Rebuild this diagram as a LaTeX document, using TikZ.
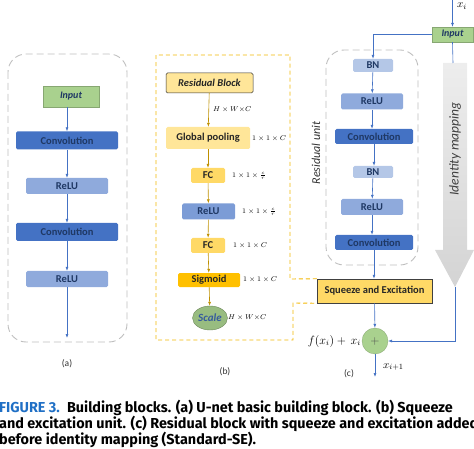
\documentclass[tikz,border=0pt]{standalone}
\usepackage{amsmath}
\usepackage{fontspec}
\setmainfont{Carlito}
\newfontfamily\capfont{Fira Sans}
\usetikzlibrary{shapes.geometric,arrows.meta,positioning}
\definecolor{convblue}{HTML}{4472C4}
\definecolor{relublue}{HTML}{8FAADC}
\definecolor{bnblue}{HTML}{B4C7E7}
\definecolor{navy}{HTML}{1F3864}
\definecolor{ingreen}{HTML}{A9D18E}
\definecolor{lightyel}{HTML}{FFE699}
\definecolor{fcyel}{HTML}{FFD966}
\definecolor{sigyel}{HTML}{FFC000}
\definecolor{dashyel}{HTML}{F2B705}
\definecolor{arrbrown}{HTML}{BF9000}
\definecolor{capblue}{HTML}{1F6FC5}

\begin{document}
\begin{tikzpicture}[x=1pt, y=-1pt,
  blk/.style={rectangle, rounded corners=1.5pt, inner sep=0pt, text=navy,
    font=\fontsize{10.5}{11}\selectfont\bfseries},
  conv/.style={blk, fill=convblue, minimum width=#1, minimum height=18pt},
  relu/.style={blk, fill=relublue, minimum width=#1, minimum height=16pt},
  bn/.style={blk, fill=bnblue, minimum width=40pt, minimum height=13pt},
  inbox/.style={rectangle, fill=ingreen, draw=ingreen!80!black, line width=0.3pt,
    inner sep=0pt, text=navy, font=\fontsize{10}{11}\selectfont\bfseries\itshape},
  yel/.style={blk, text=black!85, minimum width=#1},
  dim/.style={font=\fontsize{7.5}{8}\selectfont, inner sep=1pt, anchor=west},
  arr/.style={-{Latex[length=4pt,width=3pt]}, convblue, line width=0.6pt},
  arrb/.style={-{Latex[length=4pt,width=3pt]}, arrbrown, line width=0.6pt},
  grayframe/.style={dashed, dash pattern=on 7pt off 4pt, black!25, line width=0.9pt, rounded corners=18pt},
  sublabel/.style={font=\fontsize{9.5}{10}\selectfont, text=black!80},
  sidetext/.style={rotate=90, font=\fontsize{12}{13}\selectfont\itshape}]

\useasboundingbox (0,0) rectangle (474,449);
\clip (0,0) rectangle (474,449);

% (a) U-net basic block
\draw[grayframe] (8,54) rectangle (127,342);
\node[inbox, minimum width=56pt, minimum height=21pt] (inA) at (71,96.5) {Input};
\node[conv=102pt] (convA1) at (67,140.5) {Convolution};
\node[relu=82pt] (reluA1) at (67,186) {ReLU};
\node[conv=102pt] (convA2) at (67,232) {Convolution};
\node[relu=82pt] (reluA2) at (67,279) {ReLU};
\coordinate (outA) at (67,338);
\draw[arr] (inA.south -| convA1.north) -- (convA1.north);
\draw[arr] (convA1) -- (reluA1);
\draw[arr] (reluA1) -- (convA2);
\draw[arr] (convA2) -- (reluA2);
\draw[arr] (reluA2) -- (outA);
\node[sublabel] (labA) at (67,364) {(a)};

% (b) squeeze and excitation
\node[yel=87pt, fill=lightyel, draw=black!80, line width=0.5pt, minimum height=20pt,
  font=\fontsize{10.5}{11}\selectfont\bfseries\itshape] (resB) at (209.5,83) {Residual Block};
\node[yel=84pt, fill=lightyel, minimum height=22pt] (poolB) at (208,138) {Global pooling};
\node[yel=34pt, fill=fcyel, minimum height=15pt] (fcB1) at (208,175.5) {FC};
\node[relu=53pt, fill=convblue!70] (reluB) at (208.5,211.5) {ReLU};
\node[yel=34pt, fill=fcyel, minimum height=15pt] (fcB2) at (208,245.5) {FC};
\node[yel=62pt, fill=sigyel, minimum height=14pt] (sigB) at (209,280) {Sigmoid};
\node[ellipse, fill=ingreen!90!black, draw=ingreen!65!black, line width=0.4pt,
  minimum width=35pt, minimum height=24pt, inner sep=0pt, text=convblue!80!black,
  font=\fontsize{11}{12}\selectfont] (scaleB) at (210,318)
  {$\boldsymbol{\mathit{Scale}}$};
\draw[arrb] (resB) -- (poolB);
\draw[arrb] (poolB) -- (fcB1);
\draw[arrb] (fcB1) -- (reluB);
\draw[arrb] (reluB) -- (fcB2);
\draw[arrb] (fcB2) -- (sigB);
\draw[arrb] (sigB) -- (scaleB);
\node[dim] (dimB0) at (212,110) {$H\times W{\times}C$};
\node[dim] (dimB1) at (251,139) {$1\times1\times C$};
\node[dim] (dimB2) at (231,176) {$1\times1\times\tfrac{c}{r}$};
\node[dim] (dimB3) at (241,212) {$1\times1\times\tfrac{c}{r}$};
\node[dim] (dimB4) at (232,246) {$1\times1\times C$};
\node[dim] (dimB5) at (242,280) {$1\times1\times C$};
\node[dim] (dimB6) at (227,318) {$H\times W{\times}C$};
\node[sublabel] (labB) at (225,372) {(b)};

% (c) residual block with SE
\node[inbox, minimum width=41pt, minimum height=15pt] (inC) at (452.5,34.5) {Input};
\coordinate (topC) at (452.5,0);
\node[font=\fontsize{11}{12}\selectfont, anchor=north west, inner sep=0pt] (xiC) at (457,3) {$x_i$};
\draw[grayframe] (326,50) rectangle (418,265);
\node[sidetext, text=black!80] (resunit) at (316,153) {Residual unit};
\node[bn] (bnC1) at (373,65.5) {BN};
\node[relu=62pt] (reluC1) at (372,101.5) {ReLU};
\node[conv=78pt, minimum height=15pt] (convC1) at (374,136.5) {Convolution};
\node[bn, minimum height=12pt] (bnC2) at (373,172) {BN};
\node[relu=62pt] (reluC2) at (372,207) {ReLU};
\node[conv=78pt, minimum height=15pt] (convC2) at (374,242.5) {Convolution};
\node[yel=115pt, fill=fcyel, draw=black!75, line width=0.5pt, rounded corners=0pt,
  minimum height=24pt] (seC) at (374.5,291) {Squeeze and Excitation};
\node[circle, fill=ingreen, draw=ingreen!80!black, line width=0.3pt, minimum size=26pt,
  inner sep=0pt, font=\large, text=black!70] (plusC) at (375,341) {$+$};
\coordinate (outC) at (375,377);
\node[font=\fontsize{11.5}{12}\selectfont, anchor=east, inner sep=1pt] (sumC) at (plusC.west) {$f(x_i)+\,x_i$};
\node[font=\fontsize{11}{12}\selectfont, anchor=west, inner sep=1pt] (xnC) at (382,367) {$x_{i+1}$};
\node[sublabel] (labC) at (349,374) {(c)};

% identity mapping arrow
\shade[top color=black!7, bottom color=black!17]
  (443,63) -- (467,63) -- (467,250) -- (474,250) -- (455,287) -- (435,250) -- (443,250) -- cycle;
\coordinate (idtop) at (453,63);
\coordinate (idtip) at (455,287);
\node[sidetext, font=\fontsize{13.5}{14}\selectfont\itshape, text=black!75] (idlab) at (455,149) {Identity mapping};

\draw[arr] (topC) -- (inC.north);
\draw[arr, rounded corners=0pt] (inC.west) -| (bnC1.north);
\draw[convblue, line width=0.6pt] (inC.south) -- (idtop);
\draw[arr] (idtip) |- (plusC.east);
\draw[arr] (bnC1) -- (reluC1);
\draw[arr] (reluC1) -- (reluC1 |- convC1.north);
\draw[arr] (convC1) -- (convC1 |- bnC2.north);
\draw[arr] (bnC2) -- (reluC2);
\draw[arr] (reluC2) -- (reluC2 |- convC2.north);
\draw[arr] (convC2) -- (convC2 |- seC.north);
\draw[arr] (seC) -- (plusC);
\draw[arr] (plusC) -- (outC);

% yellow dashed frame of (b), joined to the SE box
\draw[dashyel, dashed, dash pattern=on 4pt off 3pt, line width=0.9pt]
  (seC.north west) -- (290,279) -- (290,55) -- (156,55) -- (156,340) -- (293,340) -- (293,303) -- (seC.south west);

% caption
\node[anchor=base west, inner sep=0pt, font=\capfont\fontsize{14.4}{16}\selectfont\bfseries] (cap1) at (-1,412)
  {\textcolor{capblue}{FIGURE 3.}\enspace Building blocks. (a) U-net basic building block. (b) Squeeze};
\node[anchor=base west, inner sep=0pt, font=\capfont\fontsize{14.4}{16}\selectfont\bfseries] (cap2) at (-1,428)
  {and excitation unit. (c) Residual block with squeeze and excitation added};
\node[anchor=base west, inner sep=0pt, font=\capfont\fontsize{14.4}{16}\selectfont\bfseries] (cap3) at (-1,444)
  {before identity mapping (Standard-SE).};
\end{tikzpicture}
\end{document}
